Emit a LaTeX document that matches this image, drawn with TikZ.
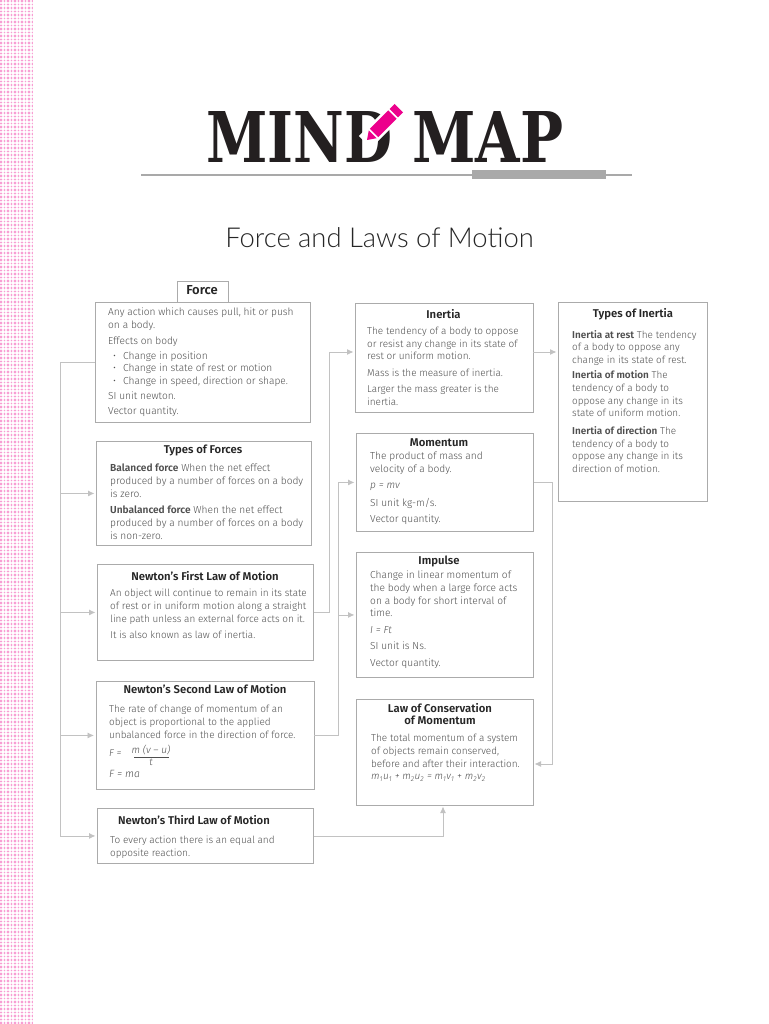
\documentclass[tikz,border=0pt]{standalone}
\usepackage{fontspec}
\usepackage{graphicx}
\usetikzlibrary{arrows.meta}
\setmainfont{Fira Sans Light}[BoldFont={Fira Sans SemiBold},ItalicFont={Fira Sans Light Italic}]
\newfontfamily\titlefont{Lato Light}
\newfontfamily\logofont{DejaVu Serif}[BoldFont={DejaVu Serif Bold}]
\definecolor{ink}{HTML}{4F4F4F}
\definecolor{headink}{HTML}{262626}
\definecolor{boxline}{HTML}{ABABAB}
\definecolor{conn}{HTML}{C2C2C2}
\definecolor{logopink}{HTML}{EC008C}
\definecolor{logoblack}{HTML}{231F20}
\definecolor{rulegrey}{HTML}{A9A9A9}
\tikzset{
 boxst/.style={draw=boxline,line width=0.9pt,inner sep=0pt,fill=white},
 headst/.style={inner sep=0pt,text=headink,font=\fontsize{11.3}{11.4}\selectfont\bfseries,align=center},
 bodyst/.style={inner sep=0pt,text=ink,anchor=north west,align=left,font=\fontsize{10.15}{12.7}\selectfont},
 tightst/.style={bodyst,font=\fontsize{9.95}{12.7}\selectfont},
 mathst/.style={bodyst,font=\fontsize{10}{12}\selectfont\itshape},
 link/.style={draw=conn,line width=0.9pt},
 arrowlink/.style={link,-{Latex[length=6.5pt,width=6pt]},shorten >=1.5pt},
}
\newlength\bw \newlength\bh
\newcommand\bx[5]{\setlength\bw{\dimexpr #4pt-#2pt\relax}\setlength\bh{\dimexpr #5pt-#3pt\relax}%
 \node[boxst,anchor=north west,minimum width=\bw,minimum height=\bh] (#1) at (#2,#3) {};}
\newcommand\bul{\hspace*{5pt}\textbullet\hspace*{7pt}}
\begin{document}
\begin{tikzpicture}[x=1pt,y=-1pt]
\useasboundingbox (0,0) rectangle (768,1024);
\fill[white] (0,0) rectangle (768,1024);
% dotted strip
\foreach \j in {0,...,292}{
 \draw[logopink!8,line width=1.5pt] (0,{1.2+3.5*\j}) -- (33,{1.2+3.5*\j});
}
\foreach \i in {0,...,9}{
 \draw[logopink!8,line width=1.5pt] ({1.2+3.45*\i},0) -- ({1.2+3.45*\i},1024);
 \draw[logopink!38,line width=1.5pt,dash pattern=on 1.5pt off 2pt] ({1.2+3.45*\i},0.45) -- ({1.2+3.45*\i},1024);
}
% logo
\node[inner sep=0pt,anchor=north west,text=logoblack] (logoa) at (206,111) {\resizebox{186pt}{51pt}{\logofont\bfseries MIND}};
\node[inner sep=0pt,anchor=north west,text=logoblack] (logob) at (412,111) {\resizebox{151pt}{51pt}{\logofont\bfseries MAP}};
\begin{scope}[shift={(367,140)},rotate=45]
 \fill[white] (-3,-8.5) rectangle (50,8.5);
 \fill[logopink] (0,0) -- (8,-5.5) -- (8,5.5) -- cycle;
 \fill[logopink] (10,-6) rectangle (36,6);
 \fill[logopink] (38,-6) rectangle (45,6);
\end{scope}
\coordinate (rulea) at (141,175);
\coordinate (ruleb) at (632,175);
\draw[rulegrey,line width=1.4pt] (rulea) -- (ruleb);
\fill[rulegrey] (472,170.5) rectangle (606,179);
% title
\node[inner sep=0pt,text=black!85] (title) at (379.5,238) {\fontsize{27.4}{30}\selectfont\titlefont Force and Laws of Motion};
% boxes
\bx{forcetag}{177}{281}{228}{302}
\bx{force}{95}{302}{310}{422}
\bx{tf}{96}{441}{311}{545}
\bx{first}{97}{564}{313}{660}
\bx{second}{95.5}{681}{313.5}{789}
\bx{third}{97}{808}{313}{863}
\bx{inertia}{355}{303}{533}{412}
\bx{momentum}{356}{433}{533}{531}
\bx{impulse}{356}{552}{533}{677}
\bx{cons}{356}{699}{533}{805}
\bx{ti}{558}{302}{707}{501}
% headings
\node[headst,font=\fontsize{13}{14}\selectfont\bfseries] (h0) at (202,290) {Force};
\node[headst] (h1) at (203,450.5) {Types of Forces};
\node[headst] (h2) at (205,576.5) {Newton's First Law of Motion};
\node[headst] (h3) at (205,689.5) {Newton's Second Law of Motion};
\node[headst] (h4) at (194,820.5) {Newton's Third Law of Motion};
\node[headst] (h5) at (443.5,314.5) {Inertia};
\node[headst] (h6) at (439,443) {Momentum};
\node[headst] (h7) at (439,561.5) {Impulse};
\node[headst] (h8) at (440,714) {Law of Conservation\\of Momentum};
\node[headst] (h9) at (633,314) {Types of Inertia};
% bodies
\node[bodyst] (t0) at (108,308) {Any action which causes pull, hit or push\\on a body.\\[3pt] Effects on body\\[2.3pt]
 \bul Change in position\\
 \bul Change in state of rest or motion\\
 \bul Change in speed, direction or shape.\\[2.5pt] SI unit newton.\\[2pt] Vector quantity.};
\node[bodyst] (t1) at (110,464) {\textbf{Balanced force} When the net effect\\produced by a number of forces on a body\\is zero.\\[4pt] \textbf{Unbalanced force} When the net effect\\produced by a number of forces on a body\\is non-zero.};
\node[tightst] (t2) at (110,589) {An object will continue to remain in its state\\of rest or in uniform motion along a straight\\line path unless an external force acts on it.\\[4pt] It is also known as law of inertia.};
\node[tightst] (t3) at (109,705) {The rate of change of momentum of an\\object is proportional to the applied\\unbalanced force in the direction of force.};
\node[mathst] (t3a) at (109,749) {F =};
\node[mathst,anchor=north] (t3b) at (151,745) {m (v – u)};
\coordinate (fraca) at (134,757);
\coordinate (fracb) at (169,757);
\draw[ink,line width=0.7pt] (fraca) -- (fracb);
\node[mathst,anchor=north] (t3c) at (151,758.5) {t};
\node[mathst,font=\fontsize{10.5}{12}\selectfont\itshape] (t3d) at (109,770) {F = ma};
\node[tightst] (t4) at (110,836) {To every action there is an equal and\\opposite reaction.};
\node[tightst] (t5) at (367,327) {The tendency of a body to oppose\\or resist any change in its state of\\rest or uniform motion.\\[3.5pt] Mass is the measure of inertia.\\[3.5pt] Larger the mass greater is the\\inertia.};
\node[bodyst] (t6) at (370,452) {The product of mass and\\velocity of a body.\\[3.5pt] \textit{p = mv}\\[5pt] SI unit kg-m/s.\\[3.5pt] Vector quantity.};
\node[bodyst] (t7) at (370,571) {Change in linear momentum of\\the body when a large force acts\\on a body for short interval of\\time.\\[4pt] \textit{I = Ft}\\[3.5pt] SI unit is Ns.\\[4pt] Vector quantity.};
\node[tightst] (t8) at (371,734) {The total momentum of a system\\of objects remain conserved,\\before and after their interaction.\\\textit{m\textsubscript{1}u\textsubscript{1} + m\textsubscript{2}u\textsubscript{2} = m\textsubscript{1}v\textsubscript{1} + m\textsubscript{2}v\textsubscript{2}}};
\node[tightst] (t9) at (572,330) {\textbf{Inertia at rest} The tendency\\of a body to oppose any\\change in its state of rest.\\[2.5pt] \textbf{Inertia of motion} The\\tendency of a body to\\oppose any change in its\\state of uniform motion.\\[5pt] \textbf{Inertia of direction} The\\tendency of a body to\\oppose any change in its\\direction of motion.};
% connectors
\coordinate (trunk) at (60,0);
\coordinate (busa) at (329,0);
\coordinate (busb) at (338,0);
\coordinate (busc) at (552,0);
\coordinate (inin) at (355,352);
\coordinate (inout) at (533,352);
\coordinate (tiin) at (558,352);
\coordinate (consin) at (533,764);
\coordinate (consbot) at (443,805);
\draw[link] (force.west) -- (trunk |- force.west) -- (trunk |- tf.west);
\draw[arrowlink] (trunk |- tf.west) -- (tf.west);
\draw[arrowlink] (trunk |- tf.west) |- (first.west);
\draw[arrowlink] (trunk |- first.west) |- (second.west);
\draw[arrowlink] (trunk |- second.west) |- (third.west);
\draw[arrowlink] (first.east) -- (busa |- first.east) |- (inin);
\draw[arrowlink] (second.east) -- (busb |- second.east) |- (momentum.west);
\draw[arrowlink] (busb |- impulse.west) -- (impulse.west);
\draw[arrowlink] (inout) -- (tiin);
\draw[arrowlink] (momentum.east) -- (busc |- momentum.east) |- (consin);
\draw[arrowlink] (third.east) -| (consbot);
\end{tikzpicture}
\end{document}
